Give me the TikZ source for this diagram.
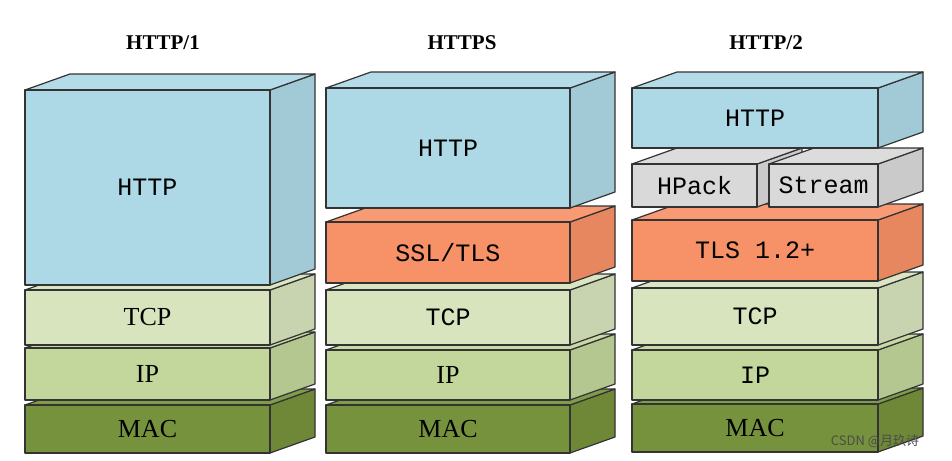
\documentclass[tikz,border=0pt]{standalone}
\usepackage{fontspec}
\setmainfont{Liberation Serif}
\newfontfamily\monof{Liberation Mono}
\newfontfamily\cjkf{Noto Sans CJK SC}
\definecolor{chttp}{HTML}{ADD8E6}
\definecolor{cssl}{HTML}{F79167}
\definecolor{ctcp}{HTML}{D7E4BD}
\definecolor{cip}{HTML}{C3D69B}
\definecolor{cmac}{HTML}{76923C}
\definecolor{cgray}{HTML}{D9D9D9}
\tikzset{face/.style={draw=black!80,line width=1.2pt,line join=round},
 lbl/.style={font=\fontsize{25}{25}\selectfont\monof},
 lbls/.style={font=\fontsize{26}{26}\selectfont},
 ttl/.style={font=\fontsize{21}{21}\selectfont\bfseries}}
% \layer{x1}{y1}{x2}{y2}{color}{name}{label}{style}
\newcommand\layer[8]{%
 \fill[#5!93!black,face] (#3,#2) -- ++(45,-16) -- ++(0,#4-#2) -- (#3,#4) -- cycle;
 \fill[#5!92!white,face] (#1,#2) -- ++(45,-16) -- (#3+45,#2-16) -- (#3,#2) -- cycle;
 \fill[#5,face] (#1,#2) rectangle (#3,#4);
 \node[#8] (#6) at ({(#1+#3)/2},{(#2+#4)/2}) {#7};}
\begin{document}
\begin{tikzpicture}[x=1pt,y=-1pt]
\useasboundingbox[fill=white] (0,0) rectangle (952,460);
\node[ttl] (t1) at (163,43) {HTTP/1};
\node[ttl] (t2) at (462,43) {HTTPS};
\node[ttl] (t3) at (766,43) {HTTP/2};
% column 1
\layer{25}{405}{270}{453}{cmac}{m1}{MAC}{lbls}
\layer{25}{348}{270}{400}{cip}{i1}{IP}{lbls}
\layer{25}{290}{270}{345}{ctcp}{c1}{TCP}{lbls}
\layer{25}{90}{270}{285}{chttp}{h1}{HTTP}{lbl}
% column 2
\layer{326}{405}{570}{453}{cmac}{m2}{MAC}{lbls}
\layer{326}{350}{570}{400}{cip}{i2}{IP}{lbls}
\layer{326}{290}{570}{345}{ctcp}{c2}{TCP}{lbl}
\layer{326}{222}{570}{283}{cssl}{s2}{SSL/TLS}{lbl}
\layer{326}{88}{570}{208}{chttp}{h2}{HTTP}{lbl}
% column 3
\layer{632}{404}{878}{452}{cmac}{m3}{MAC}{lbls}
\layer{632}{350}{878}{400}{cip}{i3}{IP}{lbl}
\layer{632}{288}{878}{345}{ctcp}{c3}{TCP}{lbl}
\layer{632}{220}{878}{281}{cssl}{s3}{TLS 1.2+}{lbl}
\layer{632}{164}{757}{207}{cgray}{hp3}{HPack}{lbl}
\layer{769}{164}{878}{207}{cgray}{st3}{Stream}{lbl}
\layer{632}{88}{878}{148}{chttp}{h3}{HTTP}{lbl}
\node[font=\fontsize{13}{13}\selectfont\cjkf,text=black!70] (wm) at (875,441) {CSDN @月玖诗};
\end{tikzpicture}
\end{document}
